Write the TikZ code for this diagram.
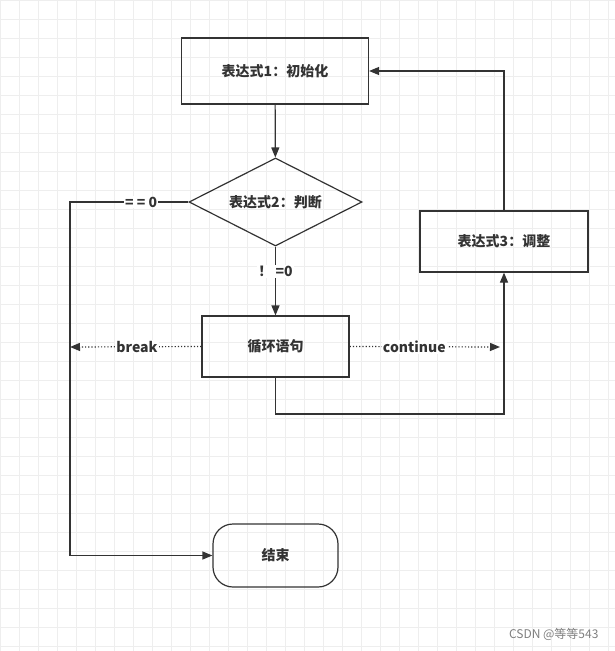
\documentclass[tikz,border=0pt]{standalone}
\usepackage{fontspec}
\setmainfont{Noto Sans CJK SC}
\newfontfamily\cjk{Noto Sans CJK SC}
\usetikzlibrary{positioning,shapes.geometric,arrows.meta}
\definecolor{ink}{RGB}{51,51,51}
\definecolor{gridgrey}{RGB}{238,238,238}
\tikzset{
    % process box
    box/.style={
        draw=ink,
        line width=1.2pt,
        rectangle,
        font=\bfseries\fontsize{14}{16}\selectfont,
        text=ink,
    },
    % decision
    decide/.style={
        box,
        diamond,
        aspect=2,
        inner sep=0pt,
    },
    % terminal
    stop/.style={
        box,
        rounded corners=20pt,
    },
    flow/.style={draw=ink, line width=1.2pt, -{Triangle[length=10pt,width=8pt]}},
    jump/.style={flow, dotted},
    tag/.style={fill=white, text=ink, inner sep=1pt, font=\bfseries\fontsize{14}{16}\selectfont},
}
\begin{document}
\begin{tikzpicture}[x=1pt,y=-1pt]
\useasboundingbox (0,0) rectangle (615,651);
\fill[white] (0,0) rectangle (615,651);
% background grid
\foreach \g in {0,19,...,615}
    \draw[gridgrey, line width=0.6pt] (\g,0) -- (\g,651);
\foreach \g in {0,19,...,651}
    \draw[gridgrey, line width=0.6pt] (0,\g) -- (615,\g);

% nodes
\node[box, minimum width=187pt, minimum height=66pt] (init) at (275,71) {表达式1：初始化};
\node[decide, minimum width=173pt, minimum height=88pt] (test) at (275.5,202) {表达式2：判断};
\node[box, minimum width=147pt, minimum height=61pt] (body) at (275.5,346.5) {循环语句};
\node[box, minimum width=168pt, minimum height=61pt] (step) at (504,241.5) {表达式3：调整};
\node[stop, minimum width=125pt, minimum height=63pt] (done) at (275.5,555.5) {结束};
\coordinate (left) at (70,202);
\coordinate (brk) at (70,347);
\coordinate (cnt) at (500,347);

% connectors
\draw[flow] (init) -- (test);
\draw[flow] (test) -- node[tag, pos=0.36] {！ =0} (body);
\draw[flow] (test.west) -- node[tag, pos=0.4] {= = 0} (left) |- (done.west);
\draw[jump] (body.west) -- node[tag, pos=0.49] {break} (brk);
\draw[jump] (body.east) -- node[tag, pos=0.43] {continue} (cnt);
\draw[flow] (body.south) |- (504,414) -- (step.south);
\draw[flow] (step.north) |- (init.east);

\node[text=gray, font=\fontsize{12}{14}\selectfont, anchor=east] (mark) at (602,634) {CSDN @等等543};
\end{tikzpicture}
\end{document}
